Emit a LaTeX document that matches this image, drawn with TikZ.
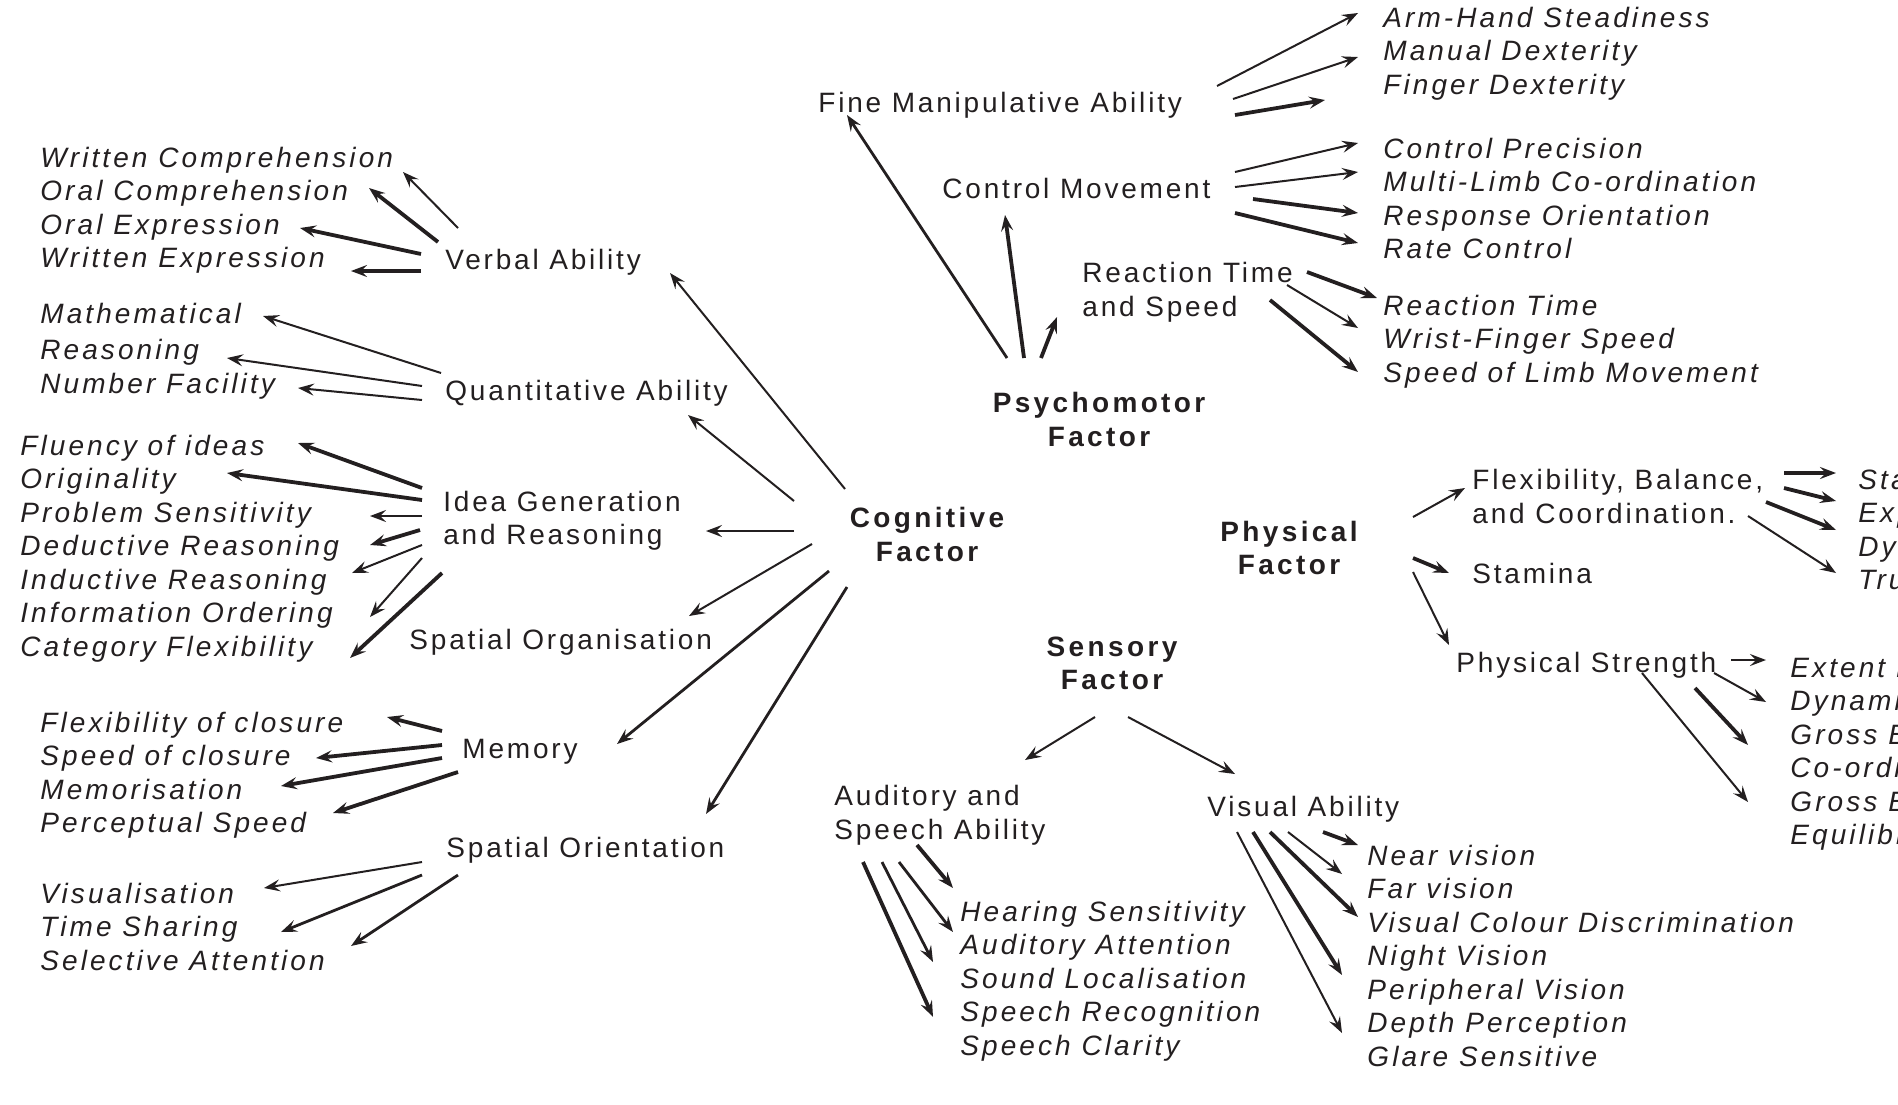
\documentclass[tikz,border=0pt]{standalone}
\usepackage{fontspec}
\newfontfamily\labelfont{Liberation Sans}[LetterSpace=10]
\newfontfamily\leaffont{Liberation Sans}[LetterSpace=11]
\newfontfamily\factorfont{Liberation Sans}[LetterSpace=12]
\usetikzlibrary{arrows.meta}
\definecolor{ink}{HTML}{231F20}

\tikzset{
   leaf/.style={font={\leaffont\fontsize{14pt}{16pt}\selectfont\itshape},
      text=ink, anchor=west, inner sep=0pt, text height=10pt, text depth=0pt},
   branch/.style={font={\labelfont\fontsize{14pt}{16pt}\selectfont},
      text=ink, anchor=west, inner sep=0pt, text height=10pt, text depth=0pt},
   factor/.style={font={\factorfont\fontsize{14pt}{16pt}\selectfont\bfseries},
      text=ink, anchor=center, inner sep=0pt, text height=10pt, text depth=0pt},
   thinarr/.style={draw=ink, line width=1pt,
      -{Stealth[length=8pt,width=6pt,inset=3pt]}},
   midarr/.style={thinarr, line width=1.4pt},
   boldarr/.style={thinarr, line width=1.9pt}
}

\begin{document}
\begin{tikzpicture}[x=0.5pt, y=-0.5pt]
   \useasboundingbox (0,0) rectangle (1898,1104);
   \clip (0,0) rectangle (1898,1104);

   % factors
   \node[factor] (cog)  at (927,517)  {Cognitive};
   \node[factor] (cog2) at (927,551)  {Factor};
   \node[factor] (psy)  at (1099,402) {Psychomotor};
   \node[factor] (psy2) at (1099,436) {Factor};
   \node[factor] (phy)  at (1289,531) {Physical};
   \node[factor] (phy2) at (1289,564) {Factor};
   \node[factor] (sen)  at (1112,646) {Sensory};
   \node[factor] (sen2) at (1112,679) {Factor};

   % abilities
   \node[branch] (va)    at (445,259)  {Verbal Ability};
   \node[branch] (qa)    at (445,390)  {Quantitative Ability};
   \node[branch] (idea)  at (443,501)  {Idea Generation};
   \node[branch] (idea2) at (443,534)  {and Reasoning};
   \node[branch] (sorg)  at (409,639)  {Spatial Organisation};
   \node[branch] (mem)   at (462,748)  {Memory};
   \node[branch] (sori)  at (446,847)  {Spatial Orientation};
   \node[branch] (fma)   at (818,102)  {Fine Manipulative Ability};
   \node[branch] (cmv)   at (942,188)  {Control Movement};
   \node[branch] (rts)   at (1082,272) {Reaction Time};
   \node[branch] (rts2)  at (1082,306) {and Speed};
   \node[branch] (fbc)   at (1472,479) {Flexibility, Balance,};
   \node[branch] (fbc2)  at (1472,513) {and Coordination.};
   \node[branch] (sta)   at (1472,573) {Stamina};
   \node[branch] (pst)   at (1456,662) {Physical Strength};
   \node[branch] (aud)   at (834,795)  {Auditory and};
   \node[branch] (aud2)  at (834,829)  {Speech Ability};
   \node[branch] (vis)   at (1207,806) {Visual Ability};

   % sub-abilities
   \foreach \t [count=\i] in {Written Comprehension, Oral Comprehension,
         Oral Expression, Written Expression}
      \node[leaf] (vb\i) at (40,{157+33.5*(\i-1)}) {\t};
   \foreach \t/\y [count=\i] in {Mathematical/313, Reasoning/349, Number Facility/383}
      \node[leaf] (ql\i) at (40,\y) {\t};
   \foreach \t [count=\i] in {Fluency of ideas, Originality, Problem Sensitivity,
         Deductive Reasoning, Inductive Reasoning, Information Ordering,
         Category Flexibility}
      \node[leaf] (il\i) at (20,{445+33.5*(\i-1)}) {\t};
   \foreach \t [count=\i] in {Flexibility of closure, Speed of closure,
         Memorisation, Perceptual Speed}
      \node[leaf] (ml\i) at (40,{722+33.5*(\i-1)}) {\t};
   \foreach \t [count=\i] in {Visualisation, Time Sharing, Selective Attention}
      \node[leaf] (ol\i) at (40,{893+33.5*(\i-1)}) {\t};
   \foreach \t [count=\i] in {Arm-Hand Steadiness, Manual Dexterity, Finger Dexterity}
      \node[leaf] (fm\i) at (1383,{17+33.5*(\i-1)}) {\t};
   \foreach \t [count=\i] in {Control Precision, Multi-Limb Co-ordination,
         Response Orientation, Rate Control}
      \node[leaf] (cm\i) at (1383,{148+33.5*(\i-1)}) {\t};
   \foreach \t [count=\i] in {Reaction Time, Wrist-Finger Speed, Speed of Limb Movement}
      \node[leaf] (rt\i) at (1383,{305+33.5*(\i-1)}) {\t};
   \foreach \t [count=\i] in {Static Strength, Explosive Strength, Dynamic Strength,
         Trunk Strength}
      \node[leaf] (fl\i) at (1858,{479+33.5*(\i-1)}) {\t};
   \foreach \t [count=\i] in {Extent Flexibility, Dynamic Flexibility, Gross Body,
         Co-ordination, Gross Body, Equilibrium}
      \node[leaf] (pl\i) at (1790,{667+33.5*(\i-1)}) {\t};
   \foreach \t [count=\i] in {Hearing Sensitivity, Auditory Attention,
         Sound Localisation, Speech Recognition, Speech Clarity}
      \node[leaf] (al\i) at (960,{911+33.5*(\i-1)}) {\t};
   \foreach \t [count=\i] in {Near vision, Far vision, Visual Colour Discrimination,
         Night Vision, Peripheral Vision, Depth Perception, Glare Sensitive}
      \node[leaf] (vl\i) at (1367,{855+33.5*(\i-1)}) {\t};

   % cognitive
   \draw[thinarr] ([shift={(-82,-28)}]cog.center) -- ([shift={(225,14)}]va.west);
   \draw[thinarr] ([shift={(-133,-16)}]cog.center) -- ([shift={(243,25)}]qa.west);
   \draw[thinarr] ([shift={(-133,14)}]cog.center) -- ([shift={(263,-3)}]idea2.west);
   \draw[thinarr] ([shift={(-115,27)}]cog.center) -- ([shift={(280,-23)}]sorg.west);
   \draw[midarr] ([shift={(-98,20)}]cog2.center) -- ([shift={(155,-4)}]mem.west);
   \draw[midarr] ([shift={(-80,36)}]cog2.center) -- ([shift={(260,-33)}]sori.west);

   \draw[thinarr] ([shift={(13,-31)}]va.west) -- ([shift={(363,15)}]vb1.west);
   \draw[boldarr] ([shift={(-7,-17)}]va.west) -- ([shift={(329,-2.5)}]vb2.west);
   \draw[boldarr] ([shift={(-24,-5)}]va.west) -- ([shift={(260,4)}]vb3.west);
   \draw[boldarr] ([shift={(-24,12)}]va.west) -- ([shift={(311,13.5)}]vb4.west);

   \draw[thinarr] ([shift={(-4,-17)}]qa.west) -- ([shift={(223,3)}]ql1.west);
   \draw[thinarr] ([shift={(-23,-4)}]qa.west) -- ([shift={(187,9)}]ql2.west);
   \draw[thinarr] ([shift={(-23,10)}]qa.west) -- ([shift={(258,5)}]ql3.west);

   \draw[boldarr] ([shift={(-21,-13)}]idea.west) -- ([shift={(278,-2)}]il1.west);
   \draw[boldarr] ([shift={(-21,-1)}]idea.west) -- ([shift={(207,-5.5)}]il2.west);
   \draw[thinarr] ([shift={(-21,15)}]idea.west) -- ([shift={(350,4)}]il3.west);
   \draw[boldarr] ([shift={(-23,29)}]idea.west) -- ([shift={(350,-0.5)}]il4.west);
   \draw[thinarr] ([shift={(-21,44)}]idea.west) -- ([shift={(332,-6)}]il5.west);
   \draw[thinarr] ([shift={(-21,24)}]idea2.west) -- ([shift={(350,4.5)}]il6.west);
   \draw[boldarr] ([shift={(-1,39)}]idea2.west) -- ([shift={(330,12)}]il7.west);

   \draw[boldarr] ([shift={(-20,-17)}]mem.west) -- ([shift={(347,-5)}]ml1.west);
   \draw[boldarr] ([shift={(-20,-3)}]mem.west) -- ([shift={(276,2.5)}]ml2.west);
   \draw[boldarr] ([shift={(-20,10)}]mem.west) -- ([shift={(241,-3)}]ml3.west);
   \draw[boldarr] ([shift={(-4,24)}]mem.west) -- ([shift={(293,-9.5)}]ml4.west);

   \draw[thinarr] ([shift={(-24,15)}]sori.west) -- ([shift={(224,-5)}]ol1.west);
   \draw[midarr] ([shift={(-24,28)}]sori.west) -- ([shift={(241,5.5)}]ol2.west);
   \draw[midarr] ([shift={(12,28)}]sori.west) -- ([shift={(311,-14)}]ol3.west);

   % psychomotor
   \draw[midarr] ([shift={(-92,-44)}]psy.center) -- ([shift={(29,13)}]fma.west);
   \draw[boldarr] ([shift={(-75,-44)}]psy.center) -- ([shift={(63,27)}]cmv.west);
   \draw[boldarr] ([shift={(-58,-44)}]psy.center) -- ([shift={(-25,11)}]rts2.west);

   \draw[thinarr] ([shift={(399,-16)}]fma.west) -- ([shift={(-25,-4)}]fm1.west);
   \draw[thinarr] ([shift={(415,-3)}]fma.west) -- ([shift={(-25,6.5)}]fm2.west);
   \draw[boldarr] ([shift={(417,13)}]fma.west) -- ([shift={(-58,16)}]fm3.west);

   \draw[thinarr] ([shift={(293,-16)}]cmv.west) -- ([shift={(-25,-5)}]cm1.west);
   \draw[thinarr] ([shift={(293,-1)}]cmv.west) -- ([shift={(-25,-9.5)}]cm2.west);
   \draw[boldarr] ([shift={(311,11)}]cmv.west) -- ([shift={(-25,-2)}]cm3.west);
   \draw[boldarr] ([shift={(293,25)}]cmv.west) -- ([shift={(-25,-5.5)}]cm4.west);

   \draw[boldarr] ([shift={(225,0)}]rts.west) -- ([shift={(-6,-7)}]rt1.west);
   \draw[thinarr] ([shift={(205,13)}]rts.west) -- ([shift={(-25,-10.5)}]rt2.west);
   \draw[boldarr] ([shift={(188,28)}]rts.west) -- ([shift={(-25,0)}]rt3.west);

   % physical
   \draw[thinarr] ([shift={(124,-14)}]phy.center) -- ([shift={(-7,9)}]fbc.west);
   \draw[boldarr] ([shift={(124,-6)}]phy2.center) -- ([shift={(-23,0)}]sta.west);
   \draw[thinarr] ([shift={(124,8)}]phy2.center) -- ([shift={(-7,-17)}]pst.west);

   \draw[boldarr] ([shift={(312,-6)}]fbc.west) -- ([shift={(-22,-6)}]fl1.west);
   \draw[boldarr] ([shift={(312,9)}]fbc.west) -- ([shift={(-22,-11.5)}]fl2.west);
   \draw[boldarr] ([shift={(294,-11)}]fbc2.west) -- ([shift={(-22,-16)}]fl3.west);
   \draw[thinarr] ([shift={(276,3)}]fbc2.west) -- ([shift={(-22,-6.5)}]fl4.west);

   \draw[thinarr] ([shift={(275,-2)}]pst.west) -- ([shift={(-24,-7)}]pl1.west);
   \draw[thinarr] ([shift={(258,11)}]pst.west) -- ([shift={(-24,1.5)}]pl2.west);
   \draw[boldarr] ([shift={(239,26)}]pst.west) -- ([shift={(-42,11)}]pl3.west);
   \draw[thinarr] ([shift={(186,11)}]pst.west) -- ([shift={(-42,1)}]pl5.west);

   % sensory
   \draw[thinarr] ([shift={(-17,38)}]sen2.center) -- ([shift={(191,-35)}]aud.west);
   \draw[thinarr] ([shift={(16,38)}]sen2.center) -- ([shift={(28,-32)}]vis.west);

   \draw[boldarr] ([shift={(83,16)}]aud2.west) -- ([shift={(-7,-23)}]al1.west);
   \draw[midarr] ([shift={(65,33)}]aud2.west) -- ([shift={(-7,-12.5)}]al2.west);
   \draw[midarr] ([shift={(48,33)}]aud2.west) -- ([shift={(-27,-16)}]al3.west);
   \draw[boldarr] ([shift={(29,33)}]aud2.west) -- ([shift={(-27,5.5)}]al4.west);

   \draw[boldarr] ([shift={(116,26)}]vis.west) -- ([shift={(-9,-10)}]vl1.west);
   \draw[thinarr] ([shift={(81,26)}]vis.west) -- ([shift={(-25,-14.5)}]vl2.west);
   \draw[boldarr] ([shift={(63,26)}]vis.west) -- ([shift={(-9,-5)}]vl3.west);
   \draw[boldarr] ([shift={(46,26)}]vis.west) -- ([shift={(-25,19.5)}]vl4.west);
   \draw[thinarr] ([shift={(30,26)}]vis.west) -- ([shift={(-25,10.5)}]vl6.west);
\end{tikzpicture}
\end{document}
